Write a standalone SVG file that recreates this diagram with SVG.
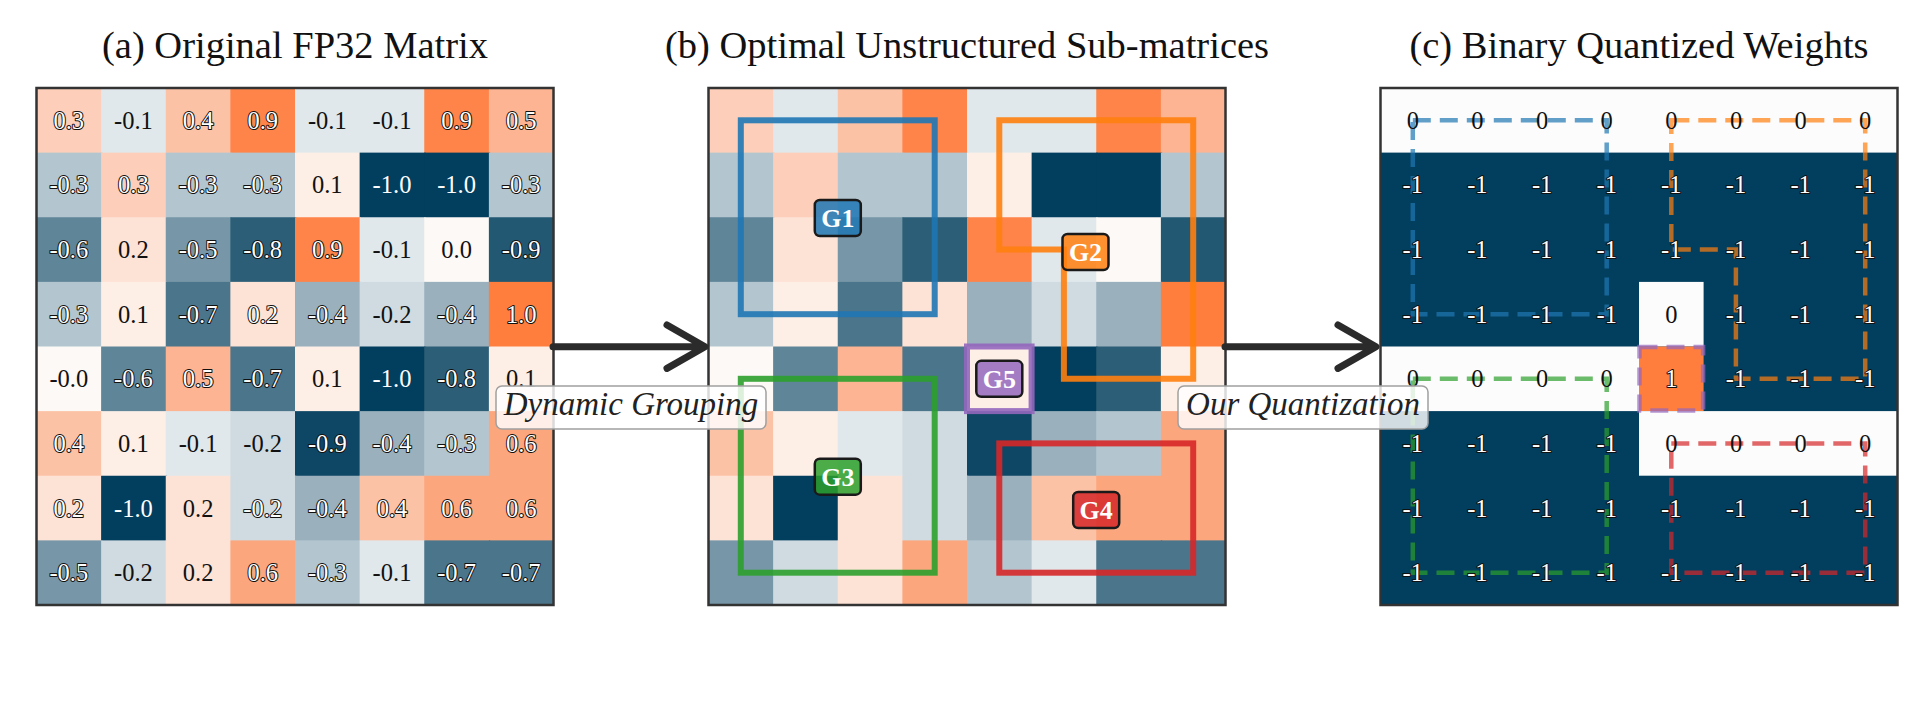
<svg xmlns="http://www.w3.org/2000/svg" xmlns:xlink="http://www.w3.org/1999/xlink" width="1924" height="708" viewBox="0 0 1924 708">
<style>
.title{font-family:"Liberation Serif","Times New Roman",serif;font-size:38.5px;fill:#111;text-anchor:middle}
.c{font-family:"Liberation Serif","Times New Roman",serif;font-size:24.5px;text-anchor:middle}
.tb{fill:#111}
.tw{fill:#fff}
.to{fill:#fff;stroke:#111;stroke-width:2px;paint-order:stroke;stroke-linejoin:round}
.v-10{fill:#023e5e}.v-09{fill:#235873}.v-09b{fill:#0e4766}.v-08{fill:#2c5e77}.v-07{fill:#4b758b}.v-06{fill:#5f8598}.v-05{fill:#7797a8}.v-04{fill:#9ab1bd}.v-03{fill:#b3c6cf}.v-02{fill:#cfdbe1}.v-01{fill:#e0e8ec}
.v00{fill:#fdf9f6}.v01{fill:#fdeee6}.v02{fill:#fde2d6}.v03{fill:#fdcfba}.v04{fill:#fcc2a6}.v05{fill:#fcb492}.v06{fill:#fca67e}.v09{fill:#fe844a}.v10{fill:#ff7e3d}
.frame{fill:none;stroke:#333;stroke-width:2.5}
.box{fill:none;stroke-width:6;stroke-opacity:0.9;stroke-linejoin:miter}
.dash{fill:none;stroke-width:4.5;stroke-opacity:0.7;stroke-dasharray:18 9}
.lbl rect{stroke:#1a1a1a;stroke-width:2.5;fill-opacity:0.85}
.lbl text{font-family:"Liberation Serif","Times New Roman",serif;font-weight:bold;font-size:26px;fill:#fff;text-anchor:middle}
.arrow{fill:none;stroke:#2b2b2b;stroke-width:7;stroke-linecap:round;stroke-linejoin:round}
.tag rect{fill:#fff;fill-opacity:0.82;stroke:#a0a0a0;stroke-width:1.5}
.tag text{font-family:"Liberation Serif","Times New Roman",serif;font-style:italic;font-size:33px;fill:#222;text-anchor:middle}
</style>
<defs>
<g id="heat" transform="scale(64.625)">
<rect class="v03" x="0" y="0" width="1.02" height="1.02"/><rect class="v-01" x="1" y="0" width="1.02" height="1.02"/><rect class="v04" x="2" y="0" width="1.02" height="1.02"/><rect class="v09" x="3" y="0" width="1.02" height="1.02"/><rect class="v-01" x="4" y="0" width="1.02" height="1.02"/><rect class="v-01" x="5" y="0" width="1.02" height="1.02"/><rect class="v09" x="6" y="0" width="1.02" height="1.02"/><rect class="v05" x="7" y="0" width="1" height="1.02"/>
<rect class="v-03" x="0" y="1" width="1.02" height="1.02"/><rect class="v03" x="1" y="1" width="1.02" height="1.02"/><rect class="v-03" x="2" y="1" width="1.02" height="1.02"/><rect class="v-03" x="3" y="1" width="1.02" height="1.02"/><rect class="v01" x="4" y="1" width="1.02" height="1.02"/><rect class="v-10" x="5" y="1" width="1.02" height="1.02"/><rect class="v-10" x="6" y="1" width="1.02" height="1.02"/><rect class="v-03" x="7" y="1" width="1" height="1.02"/>
<rect class="v-06" x="0" y="2" width="1.02" height="1.02"/><rect class="v02" x="1" y="2" width="1.02" height="1.02"/><rect class="v-05" x="2" y="2" width="1.02" height="1.02"/><rect class="v-08" x="3" y="2" width="1.02" height="1.02"/><rect class="v09" x="4" y="2" width="1.02" height="1.02"/><rect class="v-01" x="5" y="2" width="1.02" height="1.02"/><rect class="v00" x="6" y="2" width="1.02" height="1.02"/><rect class="v-09" x="7" y="2" width="1" height="1.02"/>
<rect class="v-03" x="0" y="3" width="1.02" height="1.02"/><rect class="v01" x="1" y="3" width="1.02" height="1.02"/><rect class="v-07" x="2" y="3" width="1.02" height="1.02"/><rect class="v02" x="3" y="3" width="1.02" height="1.02"/><rect class="v-04" x="4" y="3" width="1.02" height="1.02"/><rect class="v-02" x="5" y="3" width="1.02" height="1.02"/><rect class="v-04" x="6" y="3" width="1.02" height="1.02"/><rect class="v10" x="7" y="3" width="1" height="1.02"/>
<rect class="v00" x="0" y="4" width="1.02" height="1.02"/><rect class="v-06" x="1" y="4" width="1.02" height="1.02"/><rect class="v05" x="2" y="4" width="1.02" height="1.02"/><rect class="v-07" x="3" y="4" width="1.02" height="1.02"/><rect class="v01" x="4" y="4" width="1.02" height="1.02"/><rect class="v-10" x="5" y="4" width="1.02" height="1.02"/><rect class="v-08" x="6" y="4" width="1.02" height="1.02"/><rect class="v01" x="7" y="4" width="1" height="1.02"/>
<rect class="v04" x="0" y="5" width="1.02" height="1.02"/><rect class="v01" x="1" y="5" width="1.02" height="1.02"/><rect class="v-01" x="2" y="5" width="1.02" height="1.02"/><rect class="v-02" x="3" y="5" width="1.02" height="1.02"/><rect class="v-09b" x="4" y="5" width="1.02" height="1.02"/><rect class="v-04" x="5" y="5" width="1.02" height="1.02"/><rect class="v-03" x="6" y="5" width="1.02" height="1.02"/><rect class="v06" x="7" y="5" width="1" height="1.02"/>
<rect class="v02" x="0" y="6" width="1.02" height="1.02"/><rect class="v-10" x="1" y="6" width="1.02" height="1.02"/><rect class="v02" x="2" y="6" width="1.02" height="1.02"/><rect class="v-02" x="3" y="6" width="1.02" height="1.02"/><rect class="v-04" x="4" y="6" width="1.02" height="1.02"/><rect class="v04" x="5" y="6" width="1.02" height="1.02"/><rect class="v06" x="6" y="6" width="1.02" height="1.02"/><rect class="v06" x="7" y="6" width="1" height="1.02"/>
<rect class="v-05" x="0" y="7" width="1.02" height="1"/><rect class="v-02" x="1" y="7" width="1.02" height="1"/><rect class="v02" x="2" y="7" width="1.02" height="1"/><rect class="v06" x="3" y="7" width="1.02" height="1"/><rect class="v-03" x="4" y="7" width="1.02" height="1"/><rect class="v-01" x="5" y="7" width="1.02" height="1"/><rect class="v-07" x="6" y="7" width="1.02" height="1"/><rect class="v-07" x="7" y="7" width="1" height="1"/>
</g>
</defs>
<rect width="1924" height="708" fill="#fff"/>

<g id="panel-a">
<text class="title" x="295" y="58">(a) Original FP32 Matrix</text>
<use xlink:href="#heat" href="#heat" x="36.5" y="88"/>
<g class="c">
<text class="to" x="68.8" y="128.8">0.3</text><text class="tb" x="133.4" y="128.8">-0.1</text><text class="to" x="198.1" y="128.8">0.4</text><text class="to" x="262.7" y="128.8">0.9</text><text class="tb" x="327.3" y="128.8">-0.1</text><text class="tb" x="392" y="128.8">-0.1</text><text class="to" x="456.6" y="128.8">0.9</text><text class="to" x="521.2" y="128.8">0.5</text>
<text class="to" x="68.8" y="193.4">-0.3</text><text class="to" x="133.4" y="193.4">0.3</text><text class="to" x="198.1" y="193.4">-0.3</text><text class="to" x="262.7" y="193.4">-0.3</text><text class="tb" x="327.3" y="193.4">0.1</text><text class="tw" x="392" y="193.4">-1.0</text><text class="tw" x="456.6" y="193.4">-1.0</text><text class="to" x="521.2" y="193.4">-0.3</text>
<text class="to" x="68.8" y="258.1">-0.6</text><text class="tb" x="133.4" y="258.1">0.2</text><text class="to" x="198.1" y="258.1">-0.5</text><text class="to" x="262.7" y="258.1">-0.8</text><text class="to" x="327.3" y="258.1">0.9</text><text class="tb" x="392" y="258.1">-0.1</text><text class="tb" x="456.6" y="258.1">0.0</text><text class="to" x="521.2" y="258.1">-0.9</text>
<text class="to" x="68.8" y="322.7">-0.3</text><text class="tb" x="133.4" y="322.7">0.1</text><text class="to" x="198.1" y="322.7">-0.7</text><text class="to" x="262.7" y="322.7">0.2</text><text class="to" x="327.3" y="322.7">-0.4</text><text class="tb" x="392" y="322.7">-0.2</text><text class="to" x="456.6" y="322.7">-0.4</text><text class="to" x="521.2" y="322.7">1.0</text>
<text class="tb" x="68.8" y="387.3">-0.0</text><text class="to" x="133.4" y="387.3">-0.6</text><text class="to" x="198.1" y="387.3">0.5</text><text class="to" x="262.7" y="387.3">-0.7</text><text class="tb" x="327.3" y="387.3">0.1</text><text class="tw" x="392" y="387.3">-1.0</text><text class="to" x="456.6" y="387.3">-0.8</text><text class="tb" x="521.2" y="387.3">0.1</text>
<text class="to" x="68.8" y="451.9">0.4</text><text class="tb" x="133.4" y="451.9">0.1</text><text class="tb" x="198.1" y="451.9">-0.1</text><text class="tb" x="262.7" y="451.9">-0.2</text><text class="to" x="327.3" y="451.9">-0.9</text><text class="to" x="392" y="451.9">-0.4</text><text class="to" x="456.6" y="451.9">-0.3</text><text class="to" x="521.2" y="451.9">0.6</text>
<text class="to" x="68.8" y="516.6">0.2</text><text class="tw" x="133.4" y="516.6">-1.0</text><text class="tb" x="198.1" y="516.6">0.2</text><text class="to" x="262.7" y="516.6">-0.2</text><text class="to" x="327.3" y="516.6">-0.4</text><text class="to" x="392" y="516.6">0.4</text><text class="to" x="456.6" y="516.6">0.6</text><text class="to" x="521.2" y="516.6">0.6</text>
<text class="to" x="68.8" y="581.2">-0.5</text><text class="tb" x="133.4" y="581.2">-0.2</text><text class="tb" x="198.1" y="581.2">0.2</text><text class="to" x="262.7" y="581.2">0.6</text><text class="to" x="327.3" y="581.2">-0.3</text><text class="tb" x="392" y="581.2">-0.1</text><text class="to" x="456.6" y="581.2">-0.7</text><text class="to" x="521.2" y="581.2">-0.7</text>
</g>
<rect class="frame" x="36.5" y="88" width="517" height="517"/>
</g>

<g id="panel-b">
<text class="title" x="967" y="58">(b) Optimal Unstructured Sub-matrices</text>
<use xlink:href="#heat" href="#heat" x="708.5" y="88"/>
<g id="G1">
<rect class="box" x="740.8" y="120.3" width="193.9" height="193.9" stroke="#1f77b4"/>
<g class="lbl"><rect x="814.8" y="200" width="46" height="36" rx="5" fill="#1f77b4"/><text x="837.8" y="227">G1</text></g>
</g>
<g id="G2">
<path class="box" d="M999.3,120.3 H1193.2 V378.8 H1063.9 V249.6 H999.3 Z" stroke="#ff7f0e"/>
<g class="lbl"><rect x="1062.5" y="234" width="46" height="36" rx="5" fill="#ff7f0e"/><text x="1085.5" y="261">G2</text></g>
</g>
<g id="G3">
<rect class="box" x="740.8" y="378.8" width="193.9" height="193.9" stroke="#2ca02c"/>
<g class="lbl"><rect x="814.8" y="458.7" width="46" height="36" rx="5" fill="#2ca02c"/><text x="837.8" y="485.7">G3</text></g>
</g>
<g id="G4">
<rect class="box" x="999.3" y="443.4" width="193.9" height="129.3" stroke="#d62728"/>
<g class="lbl"><rect x="1073.2" y="492" width="46" height="36" rx="5" fill="#d62728"/><text x="1096.2" y="519">G4</text></g>
</g>
<g id="G5">
<rect class="box" x="967" y="346.5" width="64.6" height="64.6" stroke="#9467bd"/>
<g class="lbl"><rect x="976.3" y="360.8" width="46" height="36" rx="5" fill="#9467bd"/><text x="999.3" y="387.8">G5</text></g>
</g>
<rect class="frame" x="708.5" y="88" width="517" height="517"/>
</g>

<g id="panel-c">
<text class="title" x="1639" y="58">(c) Binary Quantized Weights</text>
<rect x="1380.5" y="88" width="517" height="517" fill="#023e5e"/>
<rect x="1380.5" y="88" width="517" height="64.6" fill="#fcfcfc"/>
<rect x="1639" y="281.9" width="64.6" height="64.6" fill="#fcfcfc"/>
<rect x="1380.5" y="346.5" width="258.5" height="64.6" fill="#fcfcfc"/>
<rect x="1639" y="346.5" width="64.6" height="64.6" fill="#ff7e3d"/>
<rect x="1639" y="411.1" width="258.5" height="64.6" fill="#fcfcfc"/>
<g id="q-groups">
<rect class="dash" x="1412.8" y="120.3" width="193.9" height="193.9" stroke="#1f77b4"/>
<path class="dash" d="M1671.3,120.3 H1865.2 V378.8 H1735.9 V249.6 H1671.3 Z" stroke="#ff7f0e"/>
<rect class="dash" x="1412.8" y="378.8" width="193.9" height="193.9" stroke="#2ca02c"/>
<rect class="dash" x="1671.3" y="443.4" width="193.9" height="129.3" stroke="#d62728"/>
<rect class="dash" x="1639.5" y="347" width="63.6" height="63.6" stroke="#9467bd"/>
</g>
<g class="c">
<text class="tb" x="1412.8" y="128.8">0</text><text class="tb" x="1477.4" y="128.8">0</text><text class="tb" x="1542.1" y="128.8">0</text><text class="tb" x="1606.7" y="128.8">0</text><text class="tb" x="1671.3" y="128.8">0</text><text class="tb" x="1736" y="128.8">0</text><text class="tb" x="1800.6" y="128.8">0</text><text class="tb" x="1865.2" y="128.8">0</text>
<text class="to" x="1412.8" y="193.4">-1</text><text class="to" x="1477.4" y="193.4">-1</text><text class="to" x="1542.1" y="193.4">-1</text><text class="to" x="1606.7" y="193.4">-1</text><text class="to" x="1671.3" y="193.4">-1</text><text class="to" x="1736" y="193.4">-1</text><text class="to" x="1800.6" y="193.4">-1</text><text class="to" x="1865.2" y="193.4">-1</text>
<text class="to" x="1412.8" y="258.1">-1</text><text class="to" x="1477.4" y="258.1">-1</text><text class="to" x="1542.1" y="258.1">-1</text><text class="to" x="1606.7" y="258.1">-1</text><text class="to" x="1671.3" y="258.1">-1</text><text class="to" x="1736" y="258.1">-1</text><text class="to" x="1800.6" y="258.1">-1</text><text class="to" x="1865.2" y="258.1">-1</text>
<text class="to" x="1412.8" y="322.7">-1</text><text class="to" x="1477.4" y="322.7">-1</text><text class="to" x="1542.1" y="322.7">-1</text><text class="to" x="1606.7" y="322.7">-1</text><text class="tb" x="1671.3" y="322.7">0</text><text class="to" x="1736" y="322.7">-1</text><text class="to" x="1800.6" y="322.7">-1</text><text class="to" x="1865.2" y="322.7">-1</text>
<text class="tb" x="1412.8" y="387.3">0</text><text class="tb" x="1477.4" y="387.3">0</text><text class="tb" x="1542.1" y="387.3">0</text><text class="tb" x="1606.7" y="387.3">0</text><text class="to" x="1671.3" y="387.3">1</text><text class="to" x="1736" y="387.3">-1</text><text class="to" x="1800.6" y="387.3">-1</text><text class="to" x="1865.2" y="387.3">-1</text>
<text class="to" x="1412.8" y="451.9">-1</text><text class="to" x="1477.4" y="451.9">-1</text><text class="to" x="1542.1" y="451.9">-1</text><text class="to" x="1606.7" y="451.9">-1</text><text class="tb" x="1671.3" y="451.9">0</text><text class="tb" x="1736" y="451.9">0</text><text class="tb" x="1800.6" y="451.9">0</text><text class="tb" x="1865.2" y="451.9">0</text>
<text class="to" x="1412.8" y="516.6">-1</text><text class="to" x="1477.4" y="516.6">-1</text><text class="to" x="1542.1" y="516.6">-1</text><text class="to" x="1606.7" y="516.6">-1</text><text class="to" x="1671.3" y="516.6">-1</text><text class="to" x="1736" y="516.6">-1</text><text class="to" x="1800.6" y="516.6">-1</text><text class="to" x="1865.2" y="516.6">-1</text>
<text class="to" x="1412.8" y="581.2">-1</text><text class="to" x="1477.4" y="581.2">-1</text><text class="to" x="1542.1" y="581.2">-1</text><text class="to" x="1606.7" y="581.2">-1</text><text class="to" x="1671.3" y="581.2">-1</text><text class="to" x="1736" y="581.2">-1</text><text class="to" x="1800.6" y="581.2">-1</text><text class="to" x="1865.2" y="581.2">-1</text>
</g>
<rect class="frame" x="1380.5" y="88" width="517" height="517"/>
</g>

<g id="connectors">
<path class="arrow" d="M553,346.7 H703 M667,325 L705,346.7 L667,368.4"/>
<path class="arrow" d="M1225,346.7 H1374 M1338,325 L1376,346.7 L1338,368.4"/>
<g class="tag"><rect x="496" y="386" width="270" height="43" rx="6"/><text x="631" y="415">Dynamic Grouping</text></g>
<g class="tag"><rect x="1178" y="386" width="250" height="43" rx="6"/><text x="1303" y="415">Our Quantization</text></g>
</g>
</svg>
